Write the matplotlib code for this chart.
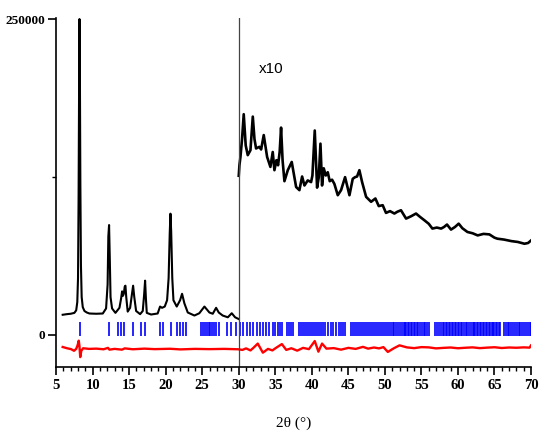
import matplotlib
matplotlib.use("Agg")
import matplotlib.pyplot as plt
from matplotlib.ticker import MultipleLocator, FixedLocator

# ---------------- data ----------------
# low-angle observed pattern (2theta, counts)
low_x = [5.9, 6.5, 7.0, 7.5, 7.75, 7.9, 8.0, 8.08, 8.15, 8.2, 8.25, 8.32, 8.4, 8.5, 8.65, 8.88,
         9.2, 9.56, 10.5, 11.39, 11.84, 12.05, 12.15, 12.25, 12.35, 12.45, 12.66, 13.12,
         13.67, 13.9, 14.03, 14.15, 14.26, 14.4, 14.49, 14.6, 14.8, 15.13, 15.35, 15.54, 15.7, 15.95,
         16.5, 16.86, 17.05, 17.18, 17.3, 17.41, 18.0, 18.9, 19.23, 19.5, 19.87, 20.19, 20.4,
         20.55, 20.65, 20.75, 20.9, 21.06, 21.51, 21.97, 22.24, 22.56, 23.02, 23.93, 24.6,
         25.3, 25.98, 26.44, 26.9, 27.26, 27.8, 28.5, 29.04, 29.5, 30.0]
low_y = [16000, 16500, 16800, 17500, 19500, 26000, 45000, 110000, 200000, 250000, 215000, 120000,
         55000, 30000, 22000, 19000, 17800, 17000, 16800, 17000, 21000, 40000, 78000, 87000,
         60000, 30000, 21000, 17500, 21500, 29000, 34500, 31000, 32500, 38500, 39000, 30000,
         18500, 21500, 31000, 39000, 30000, 19000, 16500, 19000, 32000, 43000, 28000, 17500,
         16200, 17000, 22500, 21500, 22500, 27500, 45000, 80000, 96000, 82000, 45000, 27500,
         22500, 27500, 32600, 25000, 17800, 15400, 17200, 22500, 17800, 16800, 21500, 17800,
         15400, 14000, 17200, 14000, 12600]

# high-angle observed pattern (2theta, counts) -- drawn multiplied by 10
hi_scale = 10
hi_x = [30.0, 30.09, 30.23, 30.45, 30.68, 30.95, 31.23, 31.6, 31.92, 32.15, 32.37, 32.83, 33.06,
        33.42, 33.88, 34.33, 34.65, 34.88, 35.15, 35.38, 35.6, 35.79, 36.0, 36.25, 36.71, 37.25,
        37.85, 38.3, 38.67, 38.99, 39.44, 39.9, 40.08, 40.4, 40.72, 40.95, 41.18, 41.4, 41.63,
        41.91, 42.18, 42.45, 42.77, 43.09, 43.55, 44.0, 44.55, 45.15, 45.6, 45.92, 46.19, 46.51,
        46.88, 47.43, 48.11, 48.7, 49.16, 49.7, 50.15, 50.7, 51.3, 51.7, 52.2, 52.9, 53.6, 54.26,
        54.8, 55.4, 56.0, 56.5, 57.1, 57.7, 58.1, 58.5, 59.05, 59.6, 60.1, 60.6, 61.3, 62.0,
        62.7, 63.5, 64.3, 65.0, 65.4, 66.3, 67.3, 68.2, 69.1, 69.6, 70.0]
hi_y = [12600, 13430, 14090, 15500, 17470, 15000, 14230, 14620, 17280, 15500, 14760, 14890, 14680,
        15820, 14090, 13300, 14480, 13040, 13830, 13430, 14500, 16410, 13800, 12170, 13040, 13690,
        11710, 11460, 12540, 11830, 12230, 12100, 12620, 16180, 11660, 12490, 15140, 11830, 13190,
        12620, 12880, 12170, 12290, 11950, 11060, 11460, 12490, 11060, 12360, 12490, 12540, 13040,
        12100, 10930, 10540, 10800, 10200, 10270, 9660, 9800, 9610, 9750, 9870, 9210, 9400, 9610,
        9350, 9080, 8800, 8420, 8500, 8420, 8550, 8740, 8340, 8550, 8810, 8450, 8150, 8050,
        7880, 8000, 7960, 7700, 7620, 7550, 7430, 7360, 7220, 7280, 7480]

# difference curve (obs - calc)
diff_x = [5.9, 6.5, 7.05, 7.45, 7.75, 7.95, 8.1, 8.2, 8.3, 8.45, 8.7, 9.5, 10.5, 11.5, 12.1, 12.3,
          13.0, 14.0, 14.4, 15.5, 17.1, 18.5, 20.6, 22.0, 24.0, 26.0, 28.0, 29.9, 30.5, 31.0,
          31.6, 32.0, 32.6, 33.3, 34.0, 34.6, 35.2, 35.9, 36.5, 37.2, 38.0, 38.8, 39.6, 40.4,
          40.9, 41.4, 42.0, 43.0, 44.0, 45.0, 46.0, 47.0, 47.7, 48.5, 49.2, 49.8, 50.4, 51.2,
          52.0, 53.0, 54.0, 55.0, 56.0, 57.0, 58.0, 59.0, 60.0, 61.0, 62.0, 63.0, 64.0, 65.0,
          66.0, 67.0, 68.0, 69.0, 69.8, 70.0]
diff_y = [-9500, -10500, -11200, -12500, -11000, -8000, -4500, -9000, -17500, -12500, -10500,
          -11000, -10800, -11300, -10200, -11600, -11000, -11600, -10600, -11300, -10800, -11200,
          -10900, -11400, -11000, -11200, -11000, -11300, -11800, -10600, -12200, -10200, -6800,
          -14000, -11000, -12200, -9800, -7200, -11800, -10500, -12400, -10200, -11200, -4800,
          -13200, -6800, -10800, -10400, -11600, -10200, -11000, -9400, -10800, -9900, -10600,
          -9600, -13400, -10600, -8200, -9800, -10400, -9600, -9800, -10600, -10200, -9900,
          -10500, -10100, -9800, -10400, -10000, -9700, -10300, -9900, -10100, -9800, -10000, -8200]

# Bragg reflection positions (2theta)
refl = [8.28, 12.2, 13.53, 13.9, 14.3, 15.58, 16.63, 17.18, 19.28, 19.6, 20.69, 21.6, 22.0,
        22.38, 22.79, 24.8, 25.07, 25.35, 25.6, 25.9, 26.1, 26.35, 26.66, 26.9, 27.35, 28.35,
        28.9, 29.63,
        30.18, 30.63, 31.09, 31.55, 32.0, 32.46, 32.91, 33.28, 33.73, 34.19, 34.65, 35.0, 35.33,
        35.65, 35.92, 36.57, 36.84, 37.16, 37.47, 38.3, 38.57, 38.84, 39.12, 39.39, 39.66,
        39.94, 40.2, 40.48, 40.75, 41.03, 41.3, 41.58, 41.85, 42.22, 42.59, 42.95, 43.31, 43.68,
        44.04, 44.31, 44.59, 45.37, 45.64, 45.91, 46.19, 46.46, 46.73, 47.0, 47.28, 47.56,
        47.83, 48.1, 48.38, 48.65, 48.93, 49.2, 49.47, 49.75,
        50.0, 50.28, 50.55, 50.8, 51.05, 51.3, 51.55, 51.8, 52.05, 52.3, 52.55, 52.75, 52.95,
        53.15, 53.35, 53.55, 53.75, 53.95, 54.15, 54.35, 54.55, 54.8, 55.05, 55.3, 55.55, 55.8,
        56.05, 56.9, 57.15, 57.4, 57.65, 57.9, 58.15, 58.35, 58.55, 58.75, 58.95, 59.15, 59.35,
        59.55, 59.75, 59.95, 60.15, 60.35, 60.55, 60.8, 61.05, 61.3, 61.55, 61.8, 62.0, 62.2,
        62.4, 62.6, 62.8, 63.0, 63.2, 63.4, 63.6, 63.8, 64.0, 64.2, 64.4, 64.6, 64.8, 65.0,
        65.2, 65.4, 65.6, 65.8, 66.3, 66.55, 66.8, 67.05, 67.3, 67.55, 67.8, 68.05, 68.3, 68.55,
        68.8, 69.05, 69.3, 69.55, 69.8, 70.0]

x_ticks = [5, 10, 15, 20, 25, 30, 35, 40, 45, 50, 55, 60, 65, 70]
y_ticks = [0, 250000]
split_at = 30
scale_label = "x10"
x_label = "2θ (°)"

# ---------------- figure ----------------
fig = plt.figure(figsize=(5.5, 4.4), dpi=100)
ax = fig.add_axes([0.102, 0.166, 0.8635, 0.793])

ax.plot(low_x, low_y, color="black", lw=1.5, solid_joinstyle="round")
ax.plot(hi_x, [v * hi_scale for v in hi_y], color="black", lw=1.9, solid_joinstyle="round")
ax.plot(diff_x, diff_y, color="#ff0000", lw=1.7)
ax.vlines(refl, -1000, 10000, color="#0000ff", lw=1.2)
ax.axvline(split_at, color="#444444", lw=0.9)

ax.text(32.8, 210800, scale_label, fontsize=11, family="Liberation Sans", va="center", ha="left")

ax.set_xlim(5, 70)
ax.set_ylim(-25300, 250800)

for s in ("top", "right"):
    ax.spines[s].set_visible(False)
for s in ("left", "bottom"):
    ax.spines[s].set_linewidth(1.2)

ax.xaxis.set_major_locator(FixedLocator(x_ticks))
ax.xaxis.set_minor_locator(MultipleLocator(1))
ax.yaxis.set_major_locator(FixedLocator(y_ticks))
ax.yaxis.set_minor_locator(FixedLocator([125000]))
ax.set_xticklabels([str(t) for t in x_ticks])
ax.set_yticklabels([str(t) for t in y_ticks])
ax.tick_params(axis="both", which="major", direction="out", length=6, width=1.2, pad=3)
ax.tick_params(axis="y", which="major", pad=2)
ax.tick_params(axis="both", which="minor", direction="out", length=3, width=1.0)

for lab in ax.get_xticklabels():
    lab.set_family("Liberation Serif")
    lab.set_fontweight("bold")
    lab.set_fontsize(10.5)
for lab in ax.get_yticklabels():
    lab.set_family("Liberation Serif")
    lab.set_fontweight("bold")
    lab.set_fontsize(9.5)

ax.set_xlabel(x_label, family="Liberation Serif", fontsize=11, labelpad=17)

fig.savefig("out.png", dpi=100, facecolor="white")
